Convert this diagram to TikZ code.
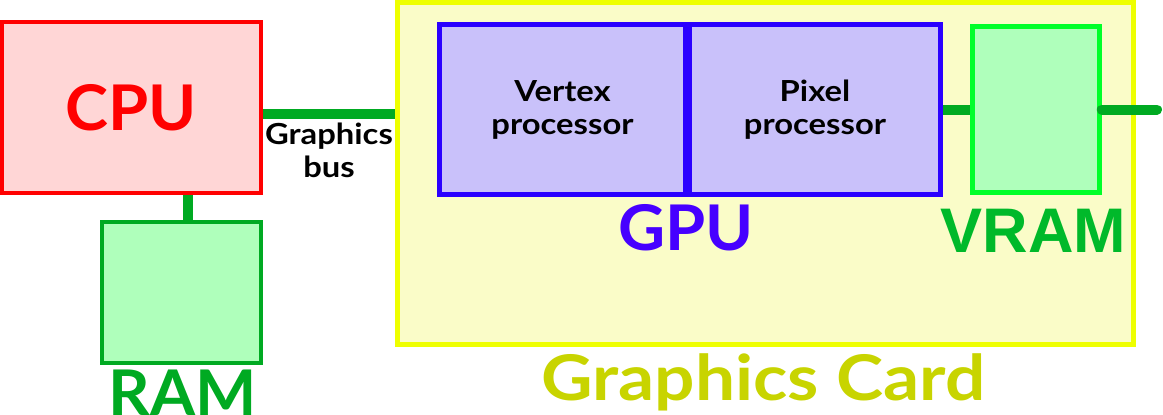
\documentclass[tikz,border=0pt]{standalone}
\usepackage{fontspec}
\setmainfont{Lato}[FakeStretch=1.03]
\newfontfamily\widefont{Lato}[FakeStretch=1.13]
\newfontfamily\vramfont{Liberation Sans}
\usetikzlibrary{backgrounds}
\definecolor{cpured}{RGB}{255,0,0}
\definecolor{cpufill}{RGB}{255,214,214}
\definecolor{ramgreen}{RGB}{0,170,34}
\definecolor{ramfill}{RGB}{175,255,187}
\definecolor{vramlime}{RGB}{0,255,42}
\definecolor{vramtext}{RGB}{0,185,42}
\definecolor{cardyellow}{RGB}{238,255,0}
\definecolor{cardfill}{RGB}{250,252,200}
\definecolor{cardtext}{RGB}{200,212,0}
\definecolor{gpublue}{RGB}{42,0,255}
\definecolor{gpufill}{RGB}{201,193,250}
\definecolor{gputext}{RGB}{70,0,255}
\begin{document}
\begin{tikzpicture}[x=1pt, y=-1pt]
\tikzstyle{part}     = [rectangle, line width=4.5pt, inner sep=0pt]
\tikzstyle{bigtag}   = [font=\fontsize{63}{70}\selectfont\bfseries, inner sep=0pt, anchor=base]
\tikzstyle{smalltag} = [font=\fontsize{29}{33}\selectfont\widefont\bfseries, align=center, inner sep=0pt]
\tikzstyle{link}     = [line width=10pt, draw=ramgreen]
\useasboundingbox (0,0) rectangle (1163,415);
\begin{scope}[on background layer]
\node[part, draw=cardyellow, fill=cardfill, line width=5pt, minimum width=736pt, minimum height=342pt] at (765.5, 173.5) (card_b) {};
\end{scope}
\node[part, draw=cpured, fill=cpufill, minimum width=259pt, minimum height=171pt, font=\fontsize{63}{70}\selectfont\bfseries, text=cpured] at (131.5, 107.5) (cpu_b) {CPU};
\node[part, draw=ramgreen, fill=ramfill, minimum width=159pt, minimum height=141pt] at (181.5, 292.5) (ram_b) {};
\node[part, draw=gpublue, fill=gpufill, minimum width=246pt, minimum height=170pt, smalltag] at (562.5, 109.5) (vtx_b) {Vertex\\processor};
\node[part, draw=gpublue, fill=gpufill, minimum width=251pt, minimum height=170pt, smalltag] at (815.0, 109.5) (pix_b) {Pixel\\processor};
\node[part, draw=vramlime, fill=ramfill, minimum width=127pt, minimum height=166pt] at (1036.0, 109.5) (vram_b) {};
\coordinate (vram_out) at (1157, 109.5);
\begin{scope}[on background layer]
\draw[link] (ram_b.85) -- (ram_b.85 |- cpu_b.south);
\draw[link] (cpu_b.-3.75) -- (cpu_b.-3.75 -| card_b.west);
\draw[link, line cap=round] (pix_b.east) -- (pix_b.east -| vram_b.west);
\end{scope}
\draw[link, line cap=round] (vram_b.east) -- (vram_out);
\node[smalltag, anchor=north] at (329, 123) (bus_t) {Graphics\\bus};
\node[bigtag, text=ramgreen] at (183, 415) (ram_t) {RAM};
\node[bigtag, text=gputext] at (686, 250) (gpu_t) {GPU};
\node[bigtag, text=vramtext, font=\fontsize{63}{70}\selectfont\bfseries\vramfont] at (1033.5, 252) (vram_t) {VRAM};
\node[bigtag, text=cardtext, font=\fontsize{63}{70}\selectfont\widefont\bfseries] at (763.5, 400) (card_t) {Graphics Card};
\end{tikzpicture}
\end{document}
